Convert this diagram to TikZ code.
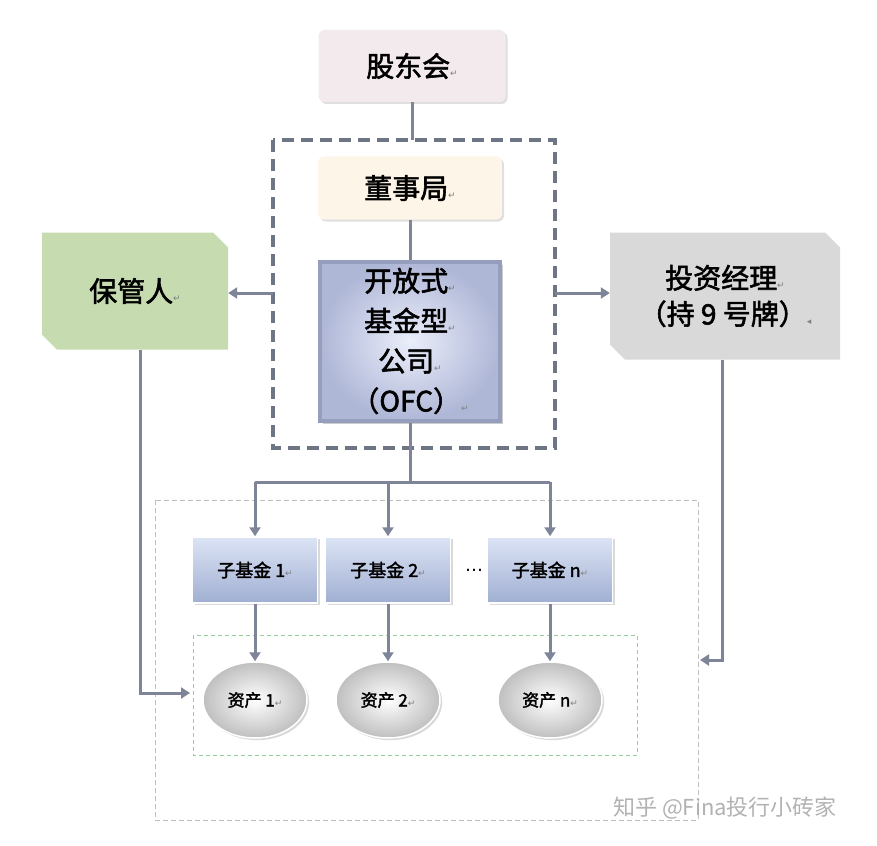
\documentclass[tikz,border=0pt]{standalone}
\usepackage{fontspec}
\newfontfamily\cjk[FakeBold=2]{Noto Sans CJK SC}
\newfontfamily\wm{Noto Sans CJK SC}
\newfontfamily\dv{DejaVu Sans}
\usetikzlibrary{arrows.meta,shadows,shapes.geometric,shapes.misc}
\definecolor{ln}{HTML}{7F8599}
\definecolor{dsh}{HTML}{6E7585}
\newcommand{\parmk}{{\dv\color{gray}\fontsize{9}{9}\selectfont ↵}}
\tikzset{
  conn/.style={draw=ln,line width=3pt},
  arr/.style={conn,-{Triangle[length=9pt,width=11pt]}},
  sbox/.style={draw=none,rounded corners=6pt,drop shadow={opacity=0.25,shadow xshift=2pt,shadow yshift=-2pt},font=\cjk\fontsize{28}{32}\selectfont},
  fund/.style={draw=white,line width=1.5pt,top color={rgb,255:red,220;green,228;blue,245},bottom color={rgb,255:red,160;green,175;blue,210},minimum width=125pt,minimum height=66pt,drop shadow={opacity=0.3},font=\cjk\fontsize{18}{20}\selectfont},
  asset/.style={ellipse,draw=white,line width=1.5pt,inner color=white,outer color=gray!50,minimum width=104pt,minimum height=76pt,drop shadow={opacity=0.3},font=\cjk\fontsize{17}{20}\selectfont},
}
\begin{document}
\begin{tikzpicture}[x=1pt,y=-1pt]
\useasboundingbox (0,0) rectangle (877,845);
\draw[dsh,line width=3.5pt,dash pattern=on 12pt off 7pt] (273,140) rectangle (555,448);
\draw[gray!50,line width=1pt,dash pattern=on 5pt off 3pt] (155,500) rectangle (698,820);
\draw[green!40!gray!60,line width=1pt,dash pattern=on 4pt off 3pt] (193,635) rectangle (637,755);
\coordinate (dtop) at (412,140);
\coordinate (dleft) at (273,293);
\coordinate (dright) at (555,293);
\node[sbox,fill={rgb,255:red,243;green,234;blue,237},minimum width=187pt,minimum height=72pt] (gdh) at (412,66) {股东会\parmk};
\node[sbox,fill={rgb,255:red,253;green,245;blue,232},minimum width=184pt,minimum height=63pt] (dsj) at (410,188) {董事局\parmk};
\node[draw={rgb,255:red,150;green,158;blue,190},line width=4pt,inner color={rgb,255:red,235;green,238;blue,250},outer color={rgb,255:red,175;green,183;blue,215},minimum width=180pt,minimum height=159pt,align=center,font=\cjk\fontsize{28}{40}\selectfont,drop shadow={opacity=0.4,shadow xshift=3pt,shadow yshift=-3pt}] (ofc) at (410,341) {开放式\parmk\\基金型\parmk\\公司\parmk\\（OFC）\parmk};
\draw[conn] (gdh) -- (dtop);
\draw[conn] (dsj) -- (ofc);
\node[fill={rgb,255:red,198;green,219;blue,176},chamfered rectangle,chamfered rectangle corners={north east,south west},chamfered rectangle xsep=12pt,minimum width=186pt,minimum height=117pt,font=\cjk\fontsize{28}{32}\selectfont] (bgr) at (135,291) {保管人\parmk};
\node[fill={rgb,255:red,217;green,217;blue,217},chamfered rectangle,chamfered rectangle corners={north east,south west},chamfered rectangle xsep=12pt,minimum width=230pt,minimum height=127pt,align=center,font=\cjk\fontsize{28}{36}\selectfont] (tzjl) at (725,296) {投资经理\parmk\\（持 9 号牌）{\dv\color{gray}\fontsize{9}{9}\selectfont ◂}};
\draw[arr] (dleft) -- (bgr.east|-dleft);
\draw[arr] (dright) -- (tzjl.west|-dright);
\node[fund] (f1) at (255,570) {子基金 1\parmk};
\node[fund] (f2) at (388,570) {子基金 2\parmk};
\node[fund] (fn) at (550,570) {子基金 n\parmk};
\node[font=\dv\fontsize{18}{18}\selectfont] (dots) at (474,570) {…};
\coordinate (bus) at (410,482);
\draw[conn] (ofc.south) -- (bus);
\draw[conn] (f1.north|-bus) -- (fn.north|-bus);
\draw[arr] (f1.north|-bus) -- (f1.north);
\draw[arr] (f2.north|-bus) -- (f2.north);
\draw[arr] (fn.north|-bus) -- (fn.north);
\node[asset] (a1) at (255,700) {资产 1\parmk};
\node[asset] (a2) at (388,700) {资产 2\parmk};
\node[asset] (an) at (550,700) {资产 n\parmk};
\draw[arr] (f1) -- (a1);
\draw[arr] (f2) -- (a2);
\draw[arr] (fn) -- (an);
\coordinate (bl) at (140,693);
\coordinate (blend) at (190,693);
\draw[arr] (bgr.south-|bl) -- (bl) -- (blend);
\coordinate (tr) at (722,660);
\coordinate (trend) at (700,660);
\draw[arr] (tzjl.south-|tr) -- (tr) -- (trend);
\node[gray!60,font=\wm\fontsize{22}{22}\selectfont] (wmk) at (725,808) {知乎 @Fina投行小砖家};
\end{tikzpicture}
\end{document}
